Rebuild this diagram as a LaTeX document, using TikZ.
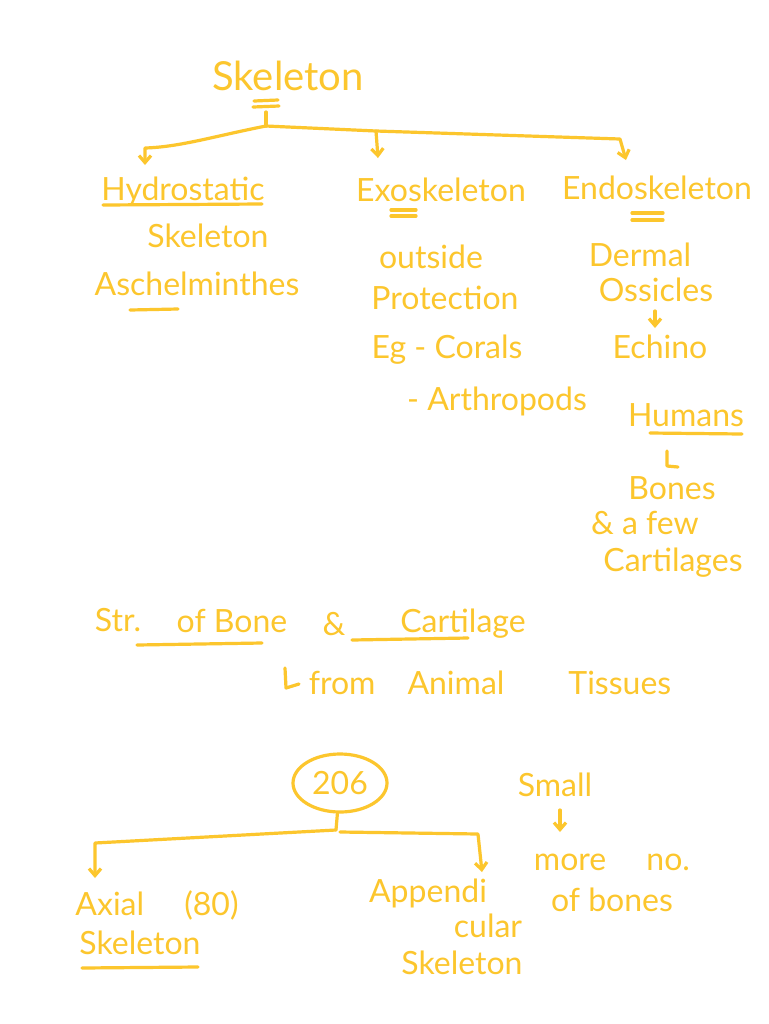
\documentclass[tikz,border=0pt]{standalone}
\usepackage{fontspec}
\setmainfont{Lato}
\usepackage{xcolor}
\usetikzlibrary{arrows.meta,shapes.geometric}
\definecolor{inkyellow}{HTML}{FCC62D}

\begin{document}
\begin{tikzpicture}[x=0.5pt, y=-0.5pt,
    note/.style={text=inkyellow, font=\fontsize{16}{18}\selectfont, inner sep=1pt},
    pen/.style={draw=inkyellow, line width=1.6pt, line cap=round, line join=round},
    penarrow/.style={pen, -{Straight Barb[length=3.5pt,width=6pt]}},
  ]

  \useasboundingbox[fill=white] (0,0) rectangle (768,1024);

  % ---- title and the three kinds
  \node[note, font=\fontsize{20}{22}\selectfont] (skel) at (288,76) {Skeleton};
  \draw[pen] (254,101) -- (278,100);
  \draw[pen] (253,107) -- (279,106);
  \coordinate (skelstem) at (266,112);
  \coordinate (fork) at (266,126);
  \coordinate (exofork) at (376,131);
  \coordinate (hydroin) at (145,165);
  \coordinate (exoin) at (378,158);
  \coordinate (endoin) at (626,160);

  \draw[pen] (skelstem) -- (fork);
  \draw[penarrow] (fork) .. controls (215,136) and (180,147) .. (145,148) -- (hydroin);
  \draw[penarrow] (fork) -- (exofork) -- (exoin);
  \draw[penarrow] (exofork) -- (620,139) -- (endoin);

  % ---- hydrostatic
  \node[note] (hydro) at (183,191) {Hydrostatic};
  \draw[pen] (103,205) -- (262,204);
  \node[note] (hydroskel) at (208,236) {Skeleton};
  \node[note] (aschel) at (197,284) {Aschelminthes};
  \draw[pen] (130,310) -- (178,309);

  % ---- exoskeleton
  \node[note] (exo) at (441,190) {Exoskeleton};
  \draw[pen] (391,210) -- (416,210);
  \draw[pen] (391,216) -- (416,216);
  \node[note] (outside) at (431,257) {outside};
  \node[note] (protect) at (445,298) {Protection};
  \node[note] (corals) at (447,350) {Eg - Corals};
  \node[note] (arthro) at (497,401) {- Arthropods};

  % ---- endoskeleton
  \node[note] (endo) at (657,188) {Endoskeleton};
  \draw[pen] (632,213) -- (663,213);
  \draw[pen] (632,220) -- (663,220);
  \node[note] (dermal) at (640,255) {Dermal};
  \node[note] (ossicle) at (656,290) {Ossicles};
  \coordinate (ossout) at (655,311);
  \coordinate (echin) at (655,328);
  \draw[penarrow] (ossout) -- (echin);
  \node[note] (echino) at (660,347) {Echino};
  \node[note] (humans) at (686,415) {Humans};
  \draw[pen] (650,433) -- (742,434);
  \coordinate (humout) at (667,451);
  \coordinate (bonesin) at (678,467);
  \draw[pen] (humout) -- (667,466) -- (bonesin);
  \node[note] (bones) at (672,488) {Bones};
  \node[note] (few) at (645,523) {\& a few};
  \node[note] (cartil) at (673,563) {Cartilages};

  % ---- structure line
  \node[note] (str) at (118,620) {Str.};
  \node[note] (ofbone) at (232,621) {of Bone};
  \node[note] (amp) at (334,624) {\&};
  \node[note] (cartl) at (463,624) {Cartilage};
  \draw[pen] (137,645) -- (262,643);
  \draw[pen] (352,640) -- (468,638);
  \coordinate (hookin) at (285,668);
  \coordinate (hookout) at (299,684);
  \draw[pen] (hookin) -- (286,688) -- (hookout);
  \node[note] (tissue) at (490,683) {from\quad Animal\qquad Tissues};

  % ---- the 206 bones
  \node[note, ellipse, draw=inkyellow, line width=1.6pt,
    minimum width=47pt, minimum height=29pt] (bones206) at (340,783) {206};
  \coordinate (split) at (336,830);
  \coordinate (splitr) at (340,832);
  \coordinate (axialin) at (95,878);
  \coordinate (appin) at (482,872);
  \draw[pen] (bones206) -- (split);
  \draw[penarrow] (split) -- (95,843) -- (axialin);
  \draw[penarrow] (splitr) -- (478,834) -- (appin);

  \node[note] (axial) at (157,905) {Axial\quad\ (80)};
  \node[note] (axskel) at (140,943) {Skeleton};
  \draw[pen] (82,968) -- (198,967);
  \node[note] (append) at (428,893) {Appendi};
  \node[note] (cular) at (488,926) {cular};
  \node[note] (apskel) at (462,963) {Skeleton};

  \node[note] (small) at (555,785) {Small};
  \coordinate (smallout) at (560,810);
  \coordinate (morein) at (560,832);
  \draw[penarrow] (smallout) -- (morein);
  \node[note] (more) at (612,862) {more\quad\ no.};
  \node[note] (ofbones) at (612,900) {of bones};

\end{tikzpicture}
\end{document}
